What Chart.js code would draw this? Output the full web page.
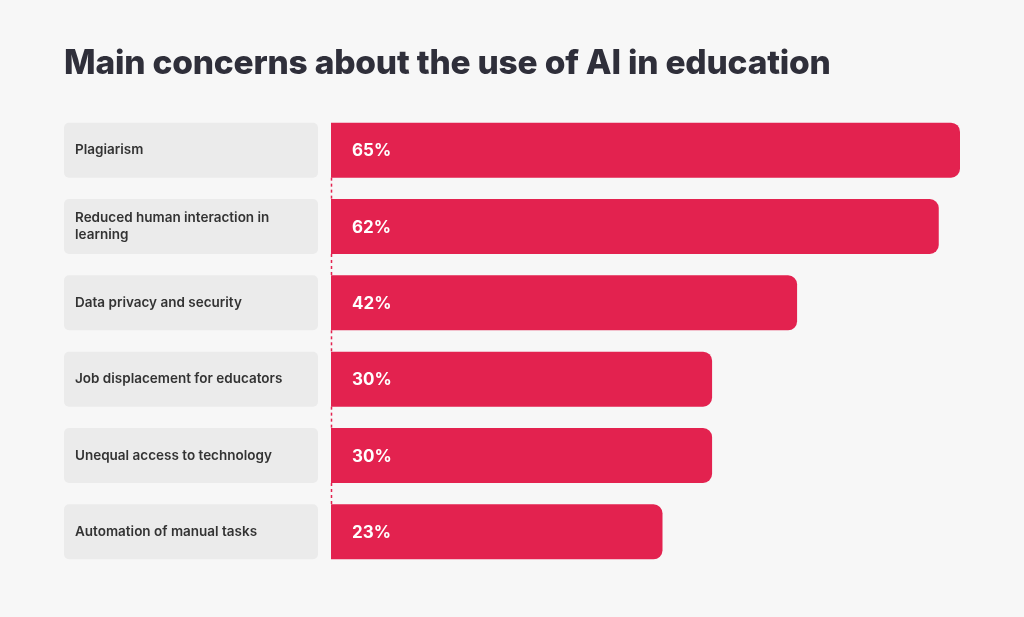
<!DOCTYPE html>
<html><head><meta charset="utf-8">
<script src="https://cdn.jsdelivr.net/npm/chart.js@4"></script>
<style>
html,body{margin:0;padding:0;background:#f7f7f7;width:1024px;height:617px;overflow:hidden;font-family:Inter,"Open Sans",sans-serif}
h1{position:absolute;left:64px;top:42px;margin:0;font-size:33.5px;font-weight:800;color:#2f2f3a;letter-spacing:-0.2px}
#wrap{position:absolute;left:0;top:0;width:1024px;height:617px}
</style></head><body>
<div id="wrap"><canvas id="c"></canvas></div>
<h1>Main concerns about the use of AI in education</h1>
<script>
const categories = [["Plagiarism"],["Reduced human interaction in","learning"],["Data privacy and security"],["Job displacement for educators"],["Unequal access to technology"],["Automation of manual tasks"]];
const values = [65,62,42,30,30,23];
const valueLabels = ["65%","62%","42%","30%","30%","23%"];
const RED = "#e3224f";
const AXIS_MIN = -23.8;
const deco = {
  id:'deco',
  beforeDatasetsDraw(ch){
    const c=ch.ctx, meta=ch.getDatasetMeta(0);
    c.save();
    meta.data.forEach((b,i)=>{
      const h=b.height, top=b.y-h/2;
      c.fillStyle="#ebebeb";
      c.beginPath(); c.roundRect(64,top,254,h,5); c.fill();
      c.fillStyle="#333";
      c.font="600 13.5px Inter, 'Open Sans', sans-serif";
      c.textBaseline="middle";
      const lines=categories[i];
      lines.forEach((t,k)=>c.fillText(t,75,b.y+(k-(lines.length-1)/2)*17));
      if(i<meta.data.length-1){
        const nb=meta.data[i+1];
        c.strokeStyle=RED;c.lineWidth=1.5;c.setLineDash([3,3]);
        c.beginPath();c.moveTo(331.5,b.y+h/2);c.lineTo(331.5,nb.y-nb.height/2);c.stroke();
        c.setLineDash([]);
      }
    });
    c.restore();
  },
  afterDatasetsDraw(ch){
    const c=ch.ctx, meta=ch.getDatasetMeta(0);
    c.save();c.fillStyle="#fff";c.font="700 17px Inter, 'Open Sans', sans-serif";c.textBaseline="middle";
    meta.data.forEach((b,i)=>c.fillText(valueLabels[i],352,b.y+1));
    c.restore();
  }
};
new Chart(document.getElementById('c'),{
  type:'bar',
  data:{labels:categories.map(l=>l.join(' ')),datasets:[{data:values,base:AXIS_MIN,backgroundColor:RED,borderRadius:{topRight:9,bottomRight:9,topLeft:0,bottomLeft:0},borderSkipped:false,barPercentage:0.72,categoryPercentage:1}]},
  options:{indexAxis:'y',responsive:true,maintainAspectRatio:false,animation:false,
    layout:{padding:{left:331,right:64,top:112,bottom:47}},
    plugins:{legend:{display:false},tooltip:{enabled:false}},
    scales:{x:{display:false,min:AXIS_MIN,max:65},y:{display:false}}},
  plugins:[deco]
});
</script>
</body></html>
